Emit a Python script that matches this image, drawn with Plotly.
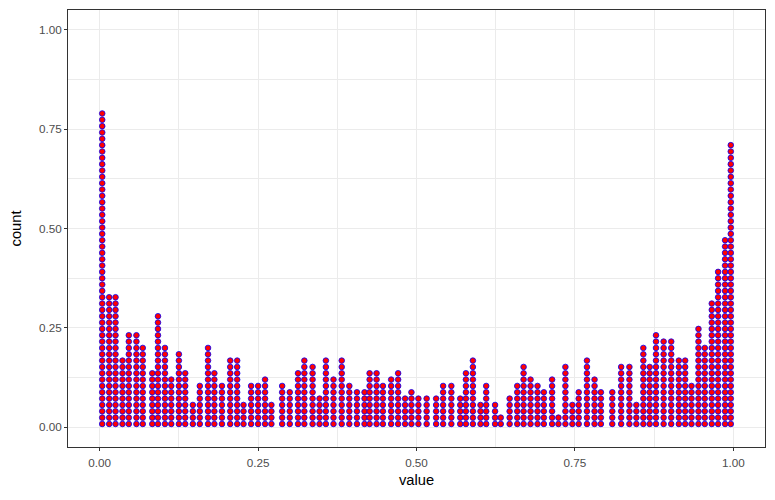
import plotly.graph_objects as go

# stack positions (bin centres) and number of dots in each stack
stack_x = [0.004, 0.015, 0.025, 0.036, 0.046, 0.058, 0.068, 0.083, 0.092, 0.103,
           0.113, 0.125, 0.135, 0.147, 0.158, 0.171, 0.181, 0.193, 0.206, 0.217,
           0.227, 0.239, 0.250, 0.261, 0.271, 0.288, 0.300, 0.313, 0.323, 0.336,
           0.347, 0.357, 0.369, 0.382, 0.394, 0.406, 0.418, 0.426, 0.437, 0.447,
           0.460, 0.471, 0.482, 0.492, 0.503, 0.516, 0.531, 0.542, 0.555, 0.569,
           0.578, 0.589, 0.601, 0.610, 0.624, 0.633, 0.647, 0.659, 0.669, 0.680,
           0.691, 0.701, 0.714, 0.724, 0.735, 0.746, 0.756, 0.769, 0.781, 0.791,
           0.809, 0.823, 0.836, 0.847, 0.858, 0.868, 0.878, 0.890, 0.902, 0.914,
           0.924, 0.934, 0.945, 0.955, 0.966, 0.976, 0.987, 0.996]
stack_n = [50, 21, 21, 11, 15, 15, 13, 9, 18, 13,
           8, 12, 9, 4, 7, 13, 9, 7, 11, 11,
           4, 7, 7, 8, 4, 7, 6, 9, 11, 10,
           5, 11, 8, 11, 7, 6, 6, 9, 9, 7,
           8, 9, 5, 6, 5, 5, 5, 7, 7, 5,
           9, 11, 4, 7, 4, 2, 5, 7, 10, 8,
           7, 6, 8, 2, 10, 4, 6, 11, 8, 6,
           6, 10, 10, 4, 13, 10, 15, 14, 14, 11,
           11, 7, 16, 13, 20, 25, 30, 45]

dot_step = 0.01595  # vertical spacing of stacked dots on the count axis

xs = []
ys = []
for x, n in zip(stack_x, stack_n):
    for k in range(n):
        xs.append(x)
        ys.append((k + 0.5) * dot_step)

fig = go.Figure()
fig.add_trace(go.Scatter(
    x=xs, y=ys, mode="markers",
    marker=dict(size=5.6, color="red", line=dict(color="blue", width=0.8)),
    showlegend=False, hoverinfo="skip",
))

font = "Liberation Sans, Arial, sans-serif"
axis_common = dict(
    range=[-0.05, 1.05],
    tickvals=[0, 0.25, 0.5, 0.75, 1],
    tickformat=".2f",
    showgrid=True, gridcolor="#EBEBEB", gridwidth=1,
    minor=dict(tick0=0.125, dtick=0.25, showgrid=True, gridcolor="#EBEBEB", gridwidth=0.5),
    zeroline=False,
    showline=True, mirror=True, linecolor="#333333", linewidth=1,
    ticks="outside", ticklen=3, tickcolor="#333333",
    tickfont=dict(family=font, size=11.7, color="#4D4D4D"),
    automargin=False,
)

fig.update_xaxes(**axis_common, ticklabelstandoff=2,
                 title=dict(text="value", standoff=6, font=dict(family=font, size=14.7, color="black")))
fig.update_yaxes(**axis_common,
                 title=dict(text="count", standoff=15, font=dict(family=font, size=14.7, color="black")))

# page body adds an 8px offset, so the figure is a bit smaller than the window
fig.update_layout(
    width=759, height=484,
    margin=dict(l=60, r=2, t=2, b=45),
    paper_bgcolor="white", plot_bgcolor="white",
)

fig.write_html("out.html")
